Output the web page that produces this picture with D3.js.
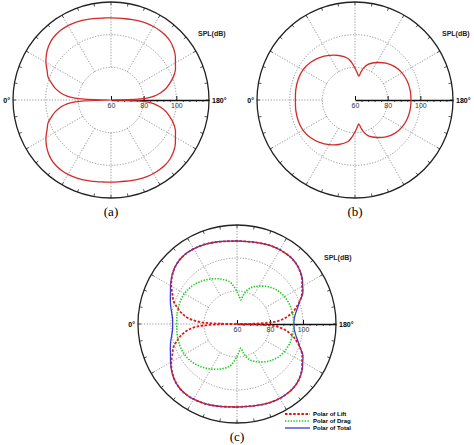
<!DOCTYPE html>
<html>
<head>
<meta charset="utf-8">
<script src="https://cdn.jsdelivr.net/npm/d3@7"></script>
<style>
body { margin: 0; background: #fff; }
text { font-family: "Liberation Sans", Arial, sans-serif; }
</style>
</head>
<body>
<div id="chart"></div>
<script>
// angle in degrees: 0 at left, 90 at top, 180 at right, 270 at bottom
var liftAngles = [0, 1, 2, 3, 5, 8, 12, 16, 20, 25, 30, 35, 40, 45, 50, 55, 60, 65, 70, 75, 80, 85, 90,
    95, 100, 105, 110, 115, 120, 125, 130, 135, 140, 145, 150, 155, 160, 164, 168, 172, 175, 177, 178, 179,
    180, 181, 182, 183, 185, 188, 192, 196, 200, 205, 210, 215, 220, 225, 230, 235, 240, 245, 250, 255,
    260, 265, 270, 275, 280, 285, 290, 295, 300, 305, 310, 315, 320, 325, 330, 335, 340, 344, 348, 352,
    355, 357, 358, 359];
var liftSPL = [60, 70, 78, 82, 87, 91, 95, 98, 101, 103.2, 106, 108.3, 110.2, 111.6, 112.4, 112.7, 112.6, 112.3,
    111.9, 111.3, 110.8, 110.4, 110.3, 110.3, 110.5, 110.9, 111.4, 111.8, 112, 112, 111.8, 111.1, 109.8, 108,
    105.5, 103.5, 100.5, 97.5, 94.5, 90.5, 86.5, 82, 78, 70,
    60, 70, 78, 82, 86.5, 90.5, 94.5, 97.5, 100.5, 103.5, 105.5, 108, 109.8, 111.1, 111.8, 112, 112, 111.8,
    111.4, 110.9, 110.5, 110.3, 110.3, 110.4, 110.8, 111.3, 111.9, 112.3, 112.6, 112.7, 112.4, 111.6, 110.2, 108.3,
    106, 103.2, 101, 98, 95, 91, 87, 82, 78, 70];

var dragAngles = [0, 10, 20, 30, 40, 50, 60, 70, 80, 85, 90, 95, 99, 102, 105, 110, 115, 120, 130, 140,
    150, 160, 170, 180, 190, 200, 210, 220, 230, 240, 245, 250, 255, 258, 261, 265, 270, 275, 280, 290,
    300, 310, 320, 330, 340, 350];
var dragSPL = [96.5, 96.8, 97, 96.8, 95.7, 93.8, 91.5, 89, 86, 83, 79.5, 76.5, 74.8, 77.5, 80.2, 83.2, 85,
    86.5, 89.5, 91.8, 93.2, 94, 94.3, 94.3, 94.3, 94, 93.2, 91.8, 89.5, 86.5, 85, 83.2, 80.2, 77.5, 74.8,
    76.5, 79.5, 83, 86, 89, 91.5, 93.8, 95.7, 96.8, 97, 96.8];

var totalAngles = [0, 5, 10, 15, 20, 25, 30, 35, 40, 45, 50, 55, 60, 65, 70, 75, 80, 85, 90, 95, 100, 105,
    110, 115, 120, 125, 130, 135, 140, 145, 150, 155, 160, 165, 170, 175, 180, 185, 190, 195, 200, 205,
    210, 215, 220, 225, 230, 235, 240, 245, 250, 255, 260, 265, 270, 275, 280, 285, 290, 295, 300, 305,
    310, 315, 320, 325, 330, 335, 340, 345, 350, 355];
var totalSPL = [99, 99.2, 100.2, 101.6, 103, 104.5, 106.5, 108.5, 110.3, 111.6, 112.4, 112.7, 112.6, 112.3, 111.9,
    111.3, 110.8, 110.4, 110.3, 110.3, 110.5, 110.9, 111.4, 111.8, 112, 112, 111.8, 111.1, 109.9, 108.3, 106,
    104, 100.5, 98, 96, 94.8, 94.5, 94.8, 96, 98, 100.5, 104, 106, 108.3, 109.9, 111.1, 111.8, 112, 112,
    111.8, 111.4, 110.9, 110.5, 110.3, 110.3, 110.4, 110.8, 111.3, 111.9, 112.3, 112.6, 112.7, 112.4, 111.6, 110.3,
    108.5, 106.5, 104.5, 103, 101.6, 100.2, 99.2];

var ringLevels = [80, 100];
var spokeAngles = [0, 30, 60, 90, 120, 150, 210, 240, 270, 300, 330];
var majorTicks = [60, 80, 100];
var minorTicks = [64, 68, 72, 76, 84, 88, 92, 96, 104, 108, 112, 116];
var legendLabels = ["Polar of Lift", "Polar of Drag", "Polar of Total"];

var svg = d3.select("#chart").append("svg")
    .attr("width", 474)
    .attr("height", 445);

var rad = a => a * Math.PI / 180;

function polarFrame(cx, cy, R, caption) {
    var rScale = d3.scaleLinear().domain([60, 120]).range([0, R]).clamp(true);
    var g = svg.append("g").attr("transform", "translate(" + cx + "," + cy + ")");

    g.selectAll(".ring").data(ringLevels).enter().append("circle")
        .attr("r", d => rScale(d))
        .attr("fill", "none")
        .attr("stroke", "#7a7a7a")
        .attr("stroke-width", 0.8)
        .attr("stroke-dasharray", "1.2,1.6");

    g.selectAll(".spoke").data(spokeAngles).enter().append("line")
        .attr("x1", d => -rScale(80) * Math.cos(rad(d)))
        .attr("y1", d => -rScale(80) * Math.sin(rad(d)))
        .attr("x2", d => -R * Math.cos(rad(d)))
        .attr("y2", d => -R * Math.sin(rad(d)))
        .attr("stroke", "#7a7a7a")
        .attr("stroke-width", 0.8)
        .attr("stroke-dasharray", "1.2,1.6");

    g.append("circle")
        .attr("r", R)
        .attr("fill", "none")
        .attr("stroke", "#222")
        .attr("stroke-width", 1.3);

    g.selectAll(".otick").data(d3.range(0, 360, 10)).enter().append("line")
        .attr("x1", d => -R * Math.cos(rad(d)))
        .attr("y1", d => -R * Math.sin(rad(d)))
        .attr("x2", d => -(R - 3) * Math.cos(rad(d)))
        .attr("y2", d => -(R - 3) * Math.sin(rad(d)))
        .attr("stroke", "#222")
        .attr("stroke-width", 0.8);

    // radial axis along 180 deg
    var axisG = g.append("g")
        .call(d3.axisBottom(rScale).tickValues(majorTicks).tickSizeInner(-4).tickSizeOuter(0).tickPadding(3));
    axisG.select(".domain").attr("stroke", "#111").attr("stroke-width", 1.3);
    axisG.selectAll(".tick line").attr("stroke", "#111").attr("stroke-width", 1);
    axisG.selectAll(".tick text")
        .style("font-size", "7px")
        .style("font-family", "'Liberation Sans', Arial, sans-serif")
        .attr("fill", "#333");

    var minorG = g.append("g")
        .call(d3.axisBottom(rScale).tickValues(minorTicks).tickSize(2).tickFormat(""));
    minorG.select(".domain").remove();
    minorG.selectAll(".tick line").attr("stroke", "#111").attr("stroke-width", 0.7);

    g.append("text")
        .attr("x", -R - 3).attr("y", 2.5)
        .attr("text-anchor", "end")
        .style("font-size", "7px").style("font-weight", "bold")
        .text("0°");
    g.append("text")
        .attr("x", R + 3).attr("y", 2.5)
        .style("font-size", "7px").style("font-weight", "bold")
        .text("180°");
    g.append("text")
        .attr("x", 87).attr("y", -64)
        .style("font-size", "7px").style("font-weight", "bold")
        .attr("fill", "#222")
        .text("SPL(dB)");

    svg.append("text")
        .attr("x", cx).attr("y", cy + R + 18)
        .attr("text-anchor", "middle")
        .style("font-family", "'Liberation Serif', 'Times New Roman', serif")
        .style("font-size", "13px")
        .text(caption);

    return {g: g, r: rScale};
}

function drawCurve(frame, angles, values, color, width, dash) {
    var pts = angles.map((a, i) => [a, values[i]]);
    var line = d3.lineRadial()
        .angle(d => rad(d[0] - 90))
        .radius(d => frame.r(d[1]))
        .curve(d3.curveCatmullRomClosed.alpha(0.5));
    frame.g.append("path")
        .datum(pts)
        .attr("d", line)
        .attr("fill", "none")
        .attr("stroke", color)
        .attr("stroke-width", width)
        .attr("stroke-dasharray", dash || null);
}

var fa = polarFrame(111, 100, 98, "(a)");
drawCurve(fa, liftAngles, liftSPL, "#d42a2a", 1.3);

var fb = polarFrame(355, 100, 98, "(b)");
drawCurve(fb, dragAngles, dragSPL, "#d42a2a", 1.3);

var fc = polarFrame(237, 324, 99, "(c)");
drawCurve(fc, totalAngles, totalSPL, "#3a3ad4", 1.3);
drawCurve(fc, liftAngles, liftSPL, "#e01818", 1.8, "2.5,1.6");
drawCurve(fc, dragAngles, dragSPL, "#1fcc1f", 1.6, "1.4,1.4");

// legend
var legendStyles = [
    {color: "#e01818", width: 1.8, dash: "2.5,1.6"},
    {color: "#1fcc1f", width: 1.6, dash: "1.4,1.4"},
    {color: "#3a3ad4", width: 1.3, dash: null}
];
var legend = svg.append("g").attr("transform", "translate(285,414)");
legend.selectAll("line").data(legendLabels).enter().append("line")
    .attr("x1", 0).attr("x2", 25)
    .attr("y1", (d, i) => i * 7).attr("y2", (d, i) => i * 7)
    .attr("stroke", (d, i) => legendStyles[i].color)
    .attr("stroke-width", (d, i) => legendStyles[i].width)
    .attr("stroke-dasharray", (d, i) => legendStyles[i].dash);
legend.selectAll("text").data(legendLabels).enter().append("text")
    .attr("x", 28).attr("y", (d, i) => i * 7 + 2)
    .style("font-size", "6px").style("font-weight", "bold")
    .text(d => d);
</script>
</body>
</html>
